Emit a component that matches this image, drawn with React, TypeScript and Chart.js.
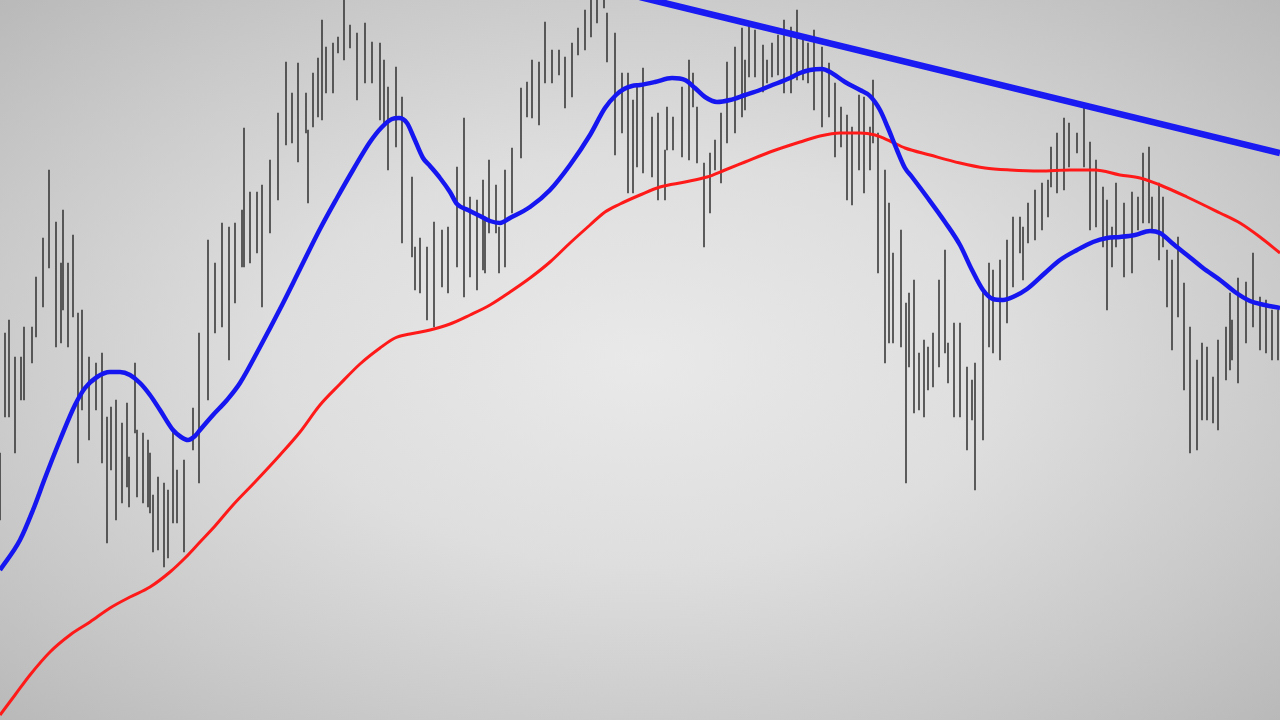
import React, { useEffect, useRef } from "react";
import { Chart, registerables } from "chart.js";

Chart.register(...registerables);

// Price bars: time position, high and low
const barTime = [
  0, 5, 9, 15, 21, 24, 32, 36, 43, 49, 56, 61, 63, 68, 73, 78, 82, 89, 96, 102,
  107, 111, 116, 122, 127, 129, 135, 137, 143, 148, 150, 153, 158, 164, 168, 173, 177, 184, 193, 199,
  208, 215, 222, 229, 235, 242, 244, 250, 257, 262, 270, 278, 286, 292, 298, 306, 308, 313, 318, 322,
  326, 333, 338, 344, 350, 357, 365, 372, 380, 384, 388, 396, 402, 412, 415, 420, 427, 434, 442, 448,
  457, 464, 470, 477, 483, 485, 489, 496, 499, 505, 512, 521, 527, 532, 539, 545, 552, 559, 565, 572,
  578, 585, 591, 597, 604, 607, 615, 622, 628, 633, 637, 643, 652, 658, 665, 667, 673, 682, 689, 693,
  697, 704, 710, 715, 721, 727, 735, 742, 745, 749, 755, 763, 767, 772, 778, 784, 791, 797, 803, 808,
  814, 822, 829, 835, 841, 847, 852, 859, 864, 870, 873, 878, 885, 889, 893, 901, 906, 909, 914, 919,
  924, 928, 933, 939, 945, 948, 954, 960, 967, 972, 975, 983, 989, 993, 1000, 1007, 1013, 1020, 1023, 1028,
  1035, 1042, 1048, 1051, 1057, 1064, 1069, 1077, 1084, 1090, 1096, 1103, 1107, 1112, 1116, 1124, 1132, 1138, 1143, 1149,
  1152, 1159, 1163, 1167, 1172, 1178, 1184, 1190, 1197, 1202, 1207, 1213, 1218, 1226, 1230, 1232, 1238, 1246, 1253, 1260,
  1266, 1272, 1278,
];
const barHigh = [
  267, 387, 400, 363, 363, 393, 393, 443, 482, 550, 498, 457, 510, 457, 485, 407, 410, 363, 357, 367,
  303, 313, 320, 297, 317, 263, 357, 290, 287, 280, 267, 225, 243, 237, 230, 288, 250, 260, 312, 387,
  480, 457, 497, 493, 497, 510, 592, 528, 528, 535, 560, 607, 658, 627, 657, 627, 590, 647, 662, 700,
  673, 677, 683, 725, 695, 687, 697, 678, 677, 660, 633, 653, 623, 543, 473, 482, 473, 498, 490, 493,
  553, 602, 523, 520, 540, 503, 560, 535, 493, 550, 572, 632, 638, 660, 658, 698, 670, 670, 663, 677,
  692, 710, 725, 725, 725, 707, 687, 647, 647, 620, 633, 652, 603, 607, 570, 613, 603, 633, 660, 647,
  613, 557, 567, 580, 607, 658, 673, 692, 660, 695, 690, 675, 660, 677, 685, 700, 693, 710, 683, 677,
  690, 673, 657, 637, 613, 605, 593, 625, 623, 593, 640, 587, 550, 517, 467, 490, 417, 427, 440, 367,
  380, 373, 387, 440, 470, 377, 397, 397, 353, 340, 357, 430, 457, 450, 460, 480, 503, 503, 493, 517,
  530, 537, 540, 573, 587, 602, 597, 587, 612, 578, 560, 533, 520, 493, 537, 517, 528, 523, 567, 573,
  523, 537, 523, 470, 460, 483, 437, 393, 360, 377, 373, 343, 380, 393, 427, 400, 442, 438, 467, 423,
  420, 410, 410,
];
const barLow = [
  200, 303, 303, 267, 320, 320, 357, 383, 413, 452, 373, 377, 410, 373, 403, 257, 310, 280, 310, 257,
  177, 250, 200, 217, 233, 213, 287, 223, 217, 213, 207, 168, 170, 153, 162, 197, 197, 168, 270, 237,
  320, 387, 393, 360, 417, 453, 453, 457, 467, 413, 487, 520, 575, 577, 558, 587, 517, 593, 603, 600,
  627, 627, 667, 660, 672, 620, 637, 637, 600, 597, 550, 573, 477, 463, 430, 427, 400, 393, 433, 427,
  453, 423, 443, 430, 450, 447, 487, 487, 447, 453, 507, 562, 603, 602, 595, 637, 637, 645, 612, 623,
  665, 670, 683, 697, 712, 658, 565, 587, 527, 527, 553, 547, 543, 520, 520, 570, 570, 563, 560, 613,
  557, 473, 507, 550, 537, 577, 587, 603, 610, 643, 643, 628, 637, 643, 645, 627, 627, 640, 640, 637,
  610, 593, 603, 563, 573, 520, 515, 550, 527, 550, 577, 447, 357, 377, 377, 373, 237, 353, 307, 310,
  303, 330, 333, 353, 367, 337, 303, 303, 270, 300, 230, 280, 373, 367, 360, 397, 433, 467, 440, 477,
  480, 490, 503, 533, 527, 530, 553, 567, 553, 490, 493, 473, 410, 453, 473, 443, 447, 490, 497, 497,
  490, 460, 473, 413, 370, 403, 330, 267, 270, 300, 300, 297, 290, 340, 350, 360, 337, 377, 393, 370,
  367, 360, 360,
];

// Fast moving average (blue)
const fastTime = [
  0, 20, 33, 45, 60, 75, 85, 97, 110, 120, 130, 140, 150, 160, 173, 181, 188, 195, 200, 213,
  227, 240, 260, 280, 300, 320, 337, 353, 370, 382, 392, 399, 407, 414, 423, 430, 440, 450, 457,
  468, 480, 490, 500, 510, 530, 550, 570, 590, 605, 616, 624, 632, 640, 655, 672, 685, 695, 705,
  717, 730, 745, 760, 775, 790, 800, 810, 822, 830, 845, 860, 870, 880, 888, 897, 905, 912, 927, 945,
  960, 972, 983, 993, 1003, 1015, 1027, 1045, 1060, 1077, 1093, 1107, 1120, 1135, 1150, 1160, 1172, 1187, 1203, 1220,
  1235, 1250, 1265, 1280,
];
const fastValue = [
  150, 180, 210, 242, 280, 315, 332, 343, 348, 348, 345, 337, 325, 310, 290, 283, 280, 284, 290, 305,
  320, 337, 373, 411, 451, 491, 522, 550, 578, 593, 601, 602, 597, 582, 562, 554, 542, 528, 516,
  510, 504, 499, 497, 502, 513, 530, 555, 585, 612, 625, 631, 634, 635, 638, 642, 640, 632, 623,
  618, 620, 625, 630, 636, 642, 647, 650, 651, 648, 638, 630, 624, 610, 592, 570, 552, 543, 523, 498,
  475, 450, 430, 421, 420, 424, 431, 447, 460, 470, 478, 482, 483, 485, 489, 487, 477, 465, 452, 440,
  428, 419, 415, 412,
];

// Slow moving average (red)
const slowTime = [
  0, 15, 30, 50, 70, 90, 110, 130, 150, 170, 185, 200, 215, 233, 255, 280, 300, 320, 340, 360,
  380, 395, 410, 430, 450, 470, 490, 510, 530, 550, 570, 590, 605, 620, 640, 660, 685, 707, 725, 745,
  770, 800, 820, 840, 860, 875, 890, 905, 930, 960, 985, 1010, 1040, 1070, 1095, 1120, 1140, 1160, 1187, 1220,
  1240, 1260, 1280,
];
const slowValue = [
  5, 25, 45, 68, 85, 98, 112, 123, 133, 148, 162, 178, 194, 215, 238, 265, 288, 315, 336, 356,
  372, 382, 386, 390, 396, 405, 415, 428, 442, 458, 477, 495, 508, 516, 525, 533, 538, 543, 550, 558,
  568, 578, 584, 587, 587, 585, 579, 572, 565, 557, 552, 550, 549, 550, 550, 545, 542, 535, 523, 507,
  497, 483, 467,
];

// Resistance trendline
const trendTime = [640, 1280];
const trendValue = [723, 567];

export default function App() {
  const canvasRef = useRef<HTMLCanvasElement | null>(null);

  useEffect(() => {
    const canvas = canvasRef.current;
    if (!canvas) return;
    const bars = barTime.map((t, i) => ({ x: t, y: [barLow[i], barHigh[i]] }));
    const fast = fastTime.map((t, i) => ({ x: t, y: fastValue[i] }));
    const slow = slowTime.map((t, i) => ({ x: t, y: slowValue[i] }));
    const trend = trendTime.map((t, i) => ({ x: t, y: trendValue[i] }));

    const chart = new Chart(canvas, {
      type: "bar",
      data: {
        datasets: [
          {
            type: "bar",
            label: "Price",
            data: bars as any,
            backgroundColor: "rgba(50,50,50,0.78)",
            borderWidth: 0,
            barThickness: 1.3,
            order: 4,
          },
          {
            type: "line",
            label: "Slow MA",
            data: slow as any,
            borderColor: "#ff1a1a",
            borderWidth: 3,
            pointRadius: 0,
            cubicInterpolationMode: "monotone",
            fill: false,
            order: 3,
          },
          {
            type: "line",
            label: "Fast MA",
            data: fast as any,
            borderColor: "#1616f0",
            borderWidth: 4.5,
            pointRadius: 0,
            cubicInterpolationMode: "monotone",
            fill: false,
            order: 2,
          },
          {
            type: "line",
            label: "Trendline",
            data: trend as any,
            borderColor: "#1a1af2",
            borderWidth: 6.5,
            pointRadius: 0,
            tension: 0,
            fill: false,
            order: 1,
          },
        ],
      },
      options: {
        responsive: false,
        animation: false,
        maintainAspectRatio: false,
        layout: { padding: 0 },
        plugins: {
          legend: { display: false },
          tooltip: { enabled: false },
        },
        scales: {
          x: { type: "linear", min: 0, max: 1280, display: false, offset: false },
          y: { type: "linear", min: 0, max: 720, display: false },
        },
      },
    });
    return () => chart.destroy();
  }, []);

  return (
    <div
      style={{
        position: "fixed",
        left: 0,
        top: 0,
        width: 1280,
        height: 720,
        background:
          "radial-gradient(ellipse at 50% 50%, #e9e9e9 0%, #dedede 40%, #c9c9c9 75%, #b9b9b9 100%)",
      }}
    >
      <canvas ref={canvasRef} width={1280} height={720} style={{ display: "block" }} />
    </div>
  );
}
